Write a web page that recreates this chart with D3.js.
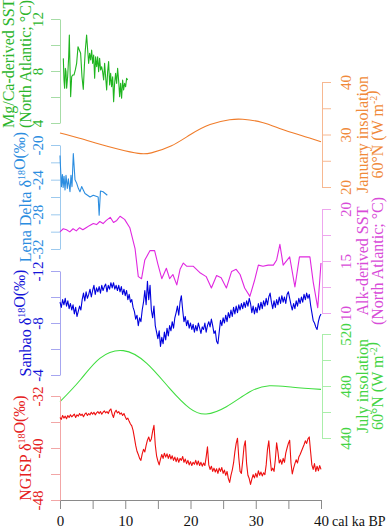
<!DOCTYPE html>
<html><head><meta charset="utf-8">
<script src="https://cdn.jsdelivr.net/npm/d3@7"></script>
<style>body{margin:0;background:#fff}svg{display:block}text{font-family:"Liberation Serif","Times New Roman",serif}</style>
</head><body><svg id="c" width="387" height="528"></svg>
<script>
// ---------- DATA ----------
const xTicks = [0,5,10,15,20,25,30,35,40];
const xLabels = [0,10,20,30,40];

const mgcaAge = [0.51,0.61,0.71,0.82,0.92,1.02,1.17,1.33,1.43,1.53,1.63,1.79,1.94,2.14,2.35,2.55,2.76,2.96,3.16,3.37,3.57,3.73,3.88,4.08,4.24,4.39,4.54,4.70,4.85,5.00,5.16,5.31,5.46,5.62,5.77,5.92,6.07,6.23,6.38,6.53,6.69,6.84,6.99,7.15,7.30,7.45,7.61,7.76,7.91,8.07,8.22,8.37,8.52,8.68,8.83,8.98,9.14,9.29,9.44,9.60,9.75,9.90,10.06,10.21,10.36];
const mgcaSST = [8.97,7.31,6.67,8.21,7.95,6.67,7.56,9.10,10.77,8.33,6.03,7.56,7.69,7.69,8.08,8.59,9.87,9.62,9.36,7.56,6.59,8.33,9.62,10.77,9.62,8.59,9.36,8.85,9.62,8.59,9.23,7.44,9.10,8.33,9.10,7.95,8.97,8.08,8.33,7.95,7.31,8.59,7.56,6.54,7.95,8.72,6.92,7.82,6.79,7.56,5.64,7.05,7.82,7.05,8.21,7.31,6.03,7.05,5.90,7.31,6.54,7.05,6.79,7.44,7.31];

const janAge = [0,3,6,9,12,14,17,20,23,26,28,31,34,37,40];
const janIns = [30.3,29.3,28.2,27.2,26.4,26.5,27.8,30.0,31.9,32.8,32.9,32.3,31.0,29.8,28.6];

const lenaAge = [0.00,0.10,0.22,0.37,0.48,0.62,0.77,0.92,1.12,1.28,1.53,1.68,1.84,2.04,2.30,2.55,2.81,3.06,3.32,3.57,3.83,4.60,5.10,5.85,6.00,6.20,6.60,7.25];
const lenaD18O = [-21.2,-22.9,-24.8,-23.4,-24.9,-23.6,-25.2,-23.5,-25.0,-23.9,-25.4,-23.5,-24.8,-21.0,-24.0,-24.4,-25.0,-25.4,-24.8,-25.2,-25.6,-26.0,-25.8,-26.0,-28.1,-25.3,-25.4,-25.8];

const alkAge = [0,0.5,1,1.5,2,2.5,3,3.5,4,4.5,5.1,5.6,6.1,6.6,7.1,7.7,8.2,8.7,9.2,9.9,10.7,11.5,12.0,12.5,13.0,13.8,14.5,15.0,15.6,16.3,16.8,17.3,17.9,18.4,18.9,19.4,20.4,21.4,22.4,23.2,24.0,24.7,25.5,26.3,27.0,27.6,28.3,29.1,29.8,30.4,31.1,31.9,32.7,33.2,33.7,34.2,35.2,36.0,36.7,38.3,38.8,39.5,40.0];
const alkSST = [17.8,18.1,18.0,17.8,18.1,17.9,18.2,18.0,18.2,18.4,18.6,18.5,18.8,18.6,18.9,19.2,18.7,18.9,19.3,19.0,18.2,16.2,13.5,13.3,15.1,16.0,16.0,14.7,13.3,14.3,13.3,13.7,12.7,14.2,14.8,14.5,14.5,13.9,13.5,12.4,13.6,13.4,12.4,14.0,14.2,13.7,12.4,11.6,13.1,14.6,14.5,14.6,14.6,15.1,16.6,14.6,15.4,12.5,15.4,15.4,13.0,10.5,14.8];

const denseAge = [0,0.2,0.4,0.6,0.8,1,1.2,1.4,1.6,1.8,2,2.2,2.4,2.6,2.8,3,3.2,3.4,3.6,3.8,4,4.2,4.4,4.6,4.8,5,5.2,5.4,5.6,5.8,6,6.2,6.4,6.6,6.8,7,7.2,7.4,7.6,7.8,8,8.2,8.4,8.6,8.8,9,9.2,9.4,9.6,9.8,10,10.2,10.4,10.6,10.8,11,11.2,11.4,11.6,11.8,12,12.2,12.4,12.6,12.8,13,13.2,13.4,13.6,13.8,14,14.2,14.4,14.6,14.8,15,15.2,15.4,15.6,15.8,16,16.2,16.4,16.6,16.8,17,17.2,17.4,17.6,17.8,18,18.2,18.4,18.6,18.8,19,19.2,19.4,19.6,19.8,20,20.2,20.4,20.6,20.8,21,21.2,21.4,21.6,21.8,22,22.2,22.4,22.6,22.8,23,23.2,23.4,23.6,23.8,24,24.2,24.4,24.6,24.8,25,25.2,25.4,25.6,25.8,26,26.2,26.4,26.6,26.8,27,27.2,27.4,27.6,27.8,28,28.2,28.4,28.6,28.8,29,29.2,29.4,29.6,29.8,30,30.2,30.4,30.6,30.8,31,31.2,31.4,31.6,31.8,32,32.2,32.4,32.6,32.8,33,33.2,33.4,33.6,33.8,34,34.2,34.4,34.6,34.8,35,35.2,35.4,35.6,35.8,36,36.2,36.4,36.6,36.8,37,37.2,37.4,37.6,37.8,38,38.2,38.4,38.6,38.8,39,39.2,39.4,39.6,39.8,40];

const sanbaoD18O = [
 -9.6,-9.2,-9.8,-9.4,-9.9, -9.3,-9.7,-9.1,-9.5,-9.0, -9.4,-8.7,-9.2,-8.5,-8.9, -9.3,-9.0,-9.8,-10.3,-9.7,
 -10.4,-9.9,-10.2,-10.6,-10.0, -10.5,-10.9,-10.2,-10.7,-10.4, -10.8,-10.3,-10.9,-10.5,-10.8, -11.0,-10.4,-10.9,-10.6,-11.1,
 -10.7,-11.1,-10.6,-10.9,-10.5, -10.9,-10.4,-10.8,-10.2,-10.6, -10.1,-10.5,-9.8,-10.2,-9.6, -9.8,-9.2,-8.9,-8.3,-8.6,
 -7.8,-8.4,-8.1,-9.0,-9.6, -10.5,-9.4,-11.2,-9.8,-10.9, -9.0,-8.4,-9.3,-7.8,-7.3, -6.8,-7.4,-6.2,-6.9,-6.4,
 -7.3,-6.7,-7.6,-7.0,-7.8, -7.4,-8.1,-7.6,-8.4,-8.8, -9.3,-8.6,-9.6,-10.1,-9.0, -8.1,-8.5,-7.8,-8.2,-7.6,
 -8.0,-7.5,-7.9,-7.3,-7.8, -7.4,-8.0,-7.6,-7.2,-7.7, -7.5,-8.0,-7.3,-7.8,-8.1, -7.7,-8.3,-7.8,-7.2,-7.4,
 -6.6,-6.4,-7.3,-8.2,-7.8, -8.4,-8.0,-8.6,-8.1,-8.8, -8.4,-9.0,-8.5,-9.2,-8.7, -9.3,-8.8,-9.4,-9.0,-9.5,
 -9.1,-9.6,-9.2,-9.7,-9.3, -9.9,-9.5,-8.8,-9.3,-8.7, -9.2,-8.8,-9.5,-9.0,-9.6, -9.1,-9.7,-9.3,-9.9,-9.4,
 -10.0,-10.3,-9.6,-9.1,-9.7, -9.2,-9.8,-9.4,-10.0,-9.5, -10.1,-9.6,-10.0,-9.5,-10.2, -10.4,-9.9,-9.4,-9.0,-9.5,
 -9.1,-9.7,-9.3,-9.9,-9.5, -10.0,-9.6,-10.2,-9.8,-10.3, -9.9,-10.2,-9.4,-8.8,-8.2, -8.0,-7.7,-7.5,-8.1,-8.5,
 -8.7];

const julyAge = [0,3.1,6.1,9.7,13.3,16.8,19.9,22.4,25.5,29.1,32.1,35.7,40];
const julyIns = [467.9,484.6,501.3,507.2,497.4,478.2,462.8,458.5,464.1,475.6,480.2,479.0,477.4];

const ngispD18O = [
 -35.3,-35.6,-35.0,-35.4,-35.1, -35.5,-35.0,-35.3,-34.9,-35.2, -35.0,-34.8,-35.3,-34.9,-35.1, -34.7,-35.0,-34.8,-35.2,-34.8,
 -34.6,-35.0,-34.7,-34.9,-34.5, -34.8,-34.5,-34.9,-34.6,-34.4, -34.7,-34.4,-34.8,-34.5,-34.3, -34.6,-34.4,-34.7,-34.2,-34.0,
 -34.8,-35.3,-34.5,-34.2,-34.6, -34.4,-34.8,-34.6,-35.0,-34.7, -35.2,-35.6,-35.4,-35.9,-36.3, -36.6,-37.3,-38.4,-39.6,-40.5,
 -41.0,-41.6,-41.9,-40.9,-40.2, -40.6,-39.6,-38.8,-38.3,-39.0, -38.6,-37.4,-36.5,-39.5,-41.2, -42.0,-42.6,-41.7,-41.0,-41.6,
 -40.8,-41.4,-40.9,-41.6,-41.0, -41.7,-41.2,-41.9,-41.4,-42.1, -41.5,-42.2,-41.6,-41.9,-41.3, -42.2,-41.7,-42.4,-41.9,-42.6,
 -42.1,-42.7,-42.2,-42.5,-41.9, -42.6,-42.0,-42.7,-42.2,-42.8, -42.3,-42.7,-41.4,-39.8,-42.6, -43.3,-42.8,-43.6,-43.1,-43.7,
 -43.2,-43.9,-43.1,-43.6,-43.0, -43.9,-43.4,-44.2,-43.6,-44.7, -45.3,-44.2,-43.4,-42.3,-40.6, -39.3,-38.5,-41.5,-43.6,-43.9,
 -42.0,-39.8,-38.9,-42.4,-44.2, -44.7,-45.6,-44.8,-44.1,-44.6, -43.9,-44.5,-43.5,-44.2,-43.7, -44.3,-43.8,-44.1,-42.6,-40.2,
 -38.9,-41.5,-43.5,-43.1,-43.6, -41.8,-39.2,-40.6,-42.3,-41.8, -42.5,-41.6,-42.2,-40.8,-40.0, -39.3,-38.8,-42.3,-44.0,-43.1,
 -42.4,-41.8,-42.3,-41.4,-41.0, -40.5,-40.0,-39.5,-38.9,-39.3, -38.6,-38.3,-40.5,-42.6,-43.3, -42.4,-43.6,-42.8,-43.5,-42.7,
 -43.3];

// ---------- CHART ----------
const svg = d3.select("#c");
const x = d3.scaleLinear().domain([0,40]).range([60,321]);
const LX = 60, RX = 322;

const panels = [
  {side:"L", age:mgcaAge, val:mgcaSST, dom:[4,12], rng:[123,19], ticks:[4,6,8,10,12], labels:[4,8,12],
   line:"#1fb51f", axis:"#a6dca6", text:"#2cb52c",
   title:[["Mg/Ca-derived SST"],["(North Atlantic; °C)"]], titleStart:128},
  {side:"R", age:janAge, val:janIns, dom:[20,40], rng:[187,82], ticks:[20,25,30,35,40], labels:[20,30,40], smooth:true,
   line:"#f07c2a", axis:"#f7b891", text:"#f08a3a",
   title:[["January insolation"],["60°N (W m",["-2","sup"],")"]]},
  {side:"L", age:lenaAge, val:lenaD18O, dom:[-32,-20], rng:[249,145], ticks:[-32,-30,-28,-26,-24,-22,-20], labels:[-32,-28,-24,-20],
   line:"#2b8de0", axis:"#9cc9ee", text:"#2b8de0",
   title:[["Lena Delta δ",["18","sup"],"O(‰)"]]},
  {side:"R", age:alkAge, val:alkSST, dom:[10,20], rng:[313,209], ticks:[10,12.5,15,17.5,20], labels:[10,15,20],
   line:"#e028e0", axis:"#eea6ee", text:"#d84cd8",
   title:[["Alk-derived SST"],["(North Atlantic; °C)"]]},
  {side:"L", age:denseAge, val:sanbaoD18O, dom:[-12,-4], rng:[271,375], ticks:[-12,-10,-8,-6,-4], labels:[-12,-8,-4],
   line:"#0000dd", axis:"#a6a6f0", text:"#1414d8",
   title:[["Sanbao δ",["18","sup"],"O(‰)"]]},
  {side:"R", age:julyAge, val:julyIns, dom:[440,520], rng:[438,334], ticks:[440,460,480,500,520], labels:[440,480,520], smooth:true,
   line:"#40dd40", axis:"#aaeeaa", text:"#44d444",
   title:[["July insolation"],["60°N (W m",["-2","sup"],")"]]},
  {side:"L", age:denseAge, val:ngispD18O, dom:[-48,-32], rng:[500,396], ticks:[-48,-44,-40,-36,-32], labels:[-48,-40,-32],
   line:"#ee1010", axis:"#f2a6a6", text:"#e52020",
   title:[["NGISP δ",["18","sup"],"O(‰)"]]}
];

function addRich(textSel, parts){
  parts.forEach(p=>{
    if(typeof p === "string"){ textSel.append("tspan").text(p); }
    else {
      textSel.append("tspan").attr("font-size",10).attr("dy",-6).text(p[0]);
      textSel.append("tspan").attr("dy",6).text("");
    }
  });
}

// bottom axis
const xAxis = d3.axisBottom(x).tickValues(xTicks).tickSize(9).tickSizeOuter(0)
  .tickFormat(d => xLabels.includes(d) ? d : "");
const gx = svg.append("g").attr("transform","translate(0,500)").call(xAxis);
gx.select(".domain").attr("stroke","#8a8a8a");
gx.selectAll(".tick line").attr("stroke","#8a8a8a");
gx.selectAll(".tick text").attr("font-size",15).attr("fill","#111").attr("y",26).attr("dy",null)
  .attr("font-family",'"Liberation Serif","Times New Roman",serif');
svg.append("text").attr("x",332).attr("y",526).attr("font-size",14).attr("fill","#111").text("cal ka BP");

panels.forEach(p=>{
  const y = d3.scaleLinear().domain(p.dom).range(p.rng);
  const axisFn = p.side==="L" ? d3.axisLeft(y) : d3.axisRight(y);
  axisFn.tickValues(p.ticks).tickSize(9).tickSizeOuter(0).tickFormat(d => p.labels.includes(d) ? d : "");
  const g = svg.append("g").attr("transform",`translate(${p.side==="L"?LX:RX},0)`).call(axisFn);
  g.select(".domain").attr("stroke",p.axis);
  g.selectAll(".tick line").attr("stroke",p.axis);
  g.selectAll(".tick text")
    .attr("font-size",15).attr("fill",p.text)
    .attr("font-family",'"Liberation Serif","Times New Roman",serif')
    .attr("text-anchor","middle").attr("transform","rotate(-90)")
    .attr("x",0).attr("dy",null)
    .attr("y", p.side==="L" ? -17 : 29);

  const data = p.age.map((a,i)=>[a,p.val[i]]);
  const ln = d3.line().x(d=>x(d[0])).y(d=>y(d[1]));
  if(p.smooth) ln.curve(d3.curveNatural);
  svg.append("path").datum(data).attr("d",ln).attr("fill","none")
    .attr("stroke",p.line).attr("stroke-width",1.1).attr("stroke-linejoin","round");

  const cy = (p.rng[0]+p.rng[1])/2;
  let bases;
  if(p.side==="L") bases = p.title.length===2 ? [13.5,31] : [31];
  else bases = [368,383];
  p.title.forEach((parts,i)=>{
    const t = svg.append("text").attr("font-size",16).attr("fill",p.text)
      .attr("transform",`translate(${bases[i]},${p.titleStart!==undefined?p.titleStart:cy}) rotate(-90)`)
      .attr("text-anchor", p.titleStart!==undefined ? "start" : "middle");
    addRich(t, parts);
  });
});
</script></body></html>
